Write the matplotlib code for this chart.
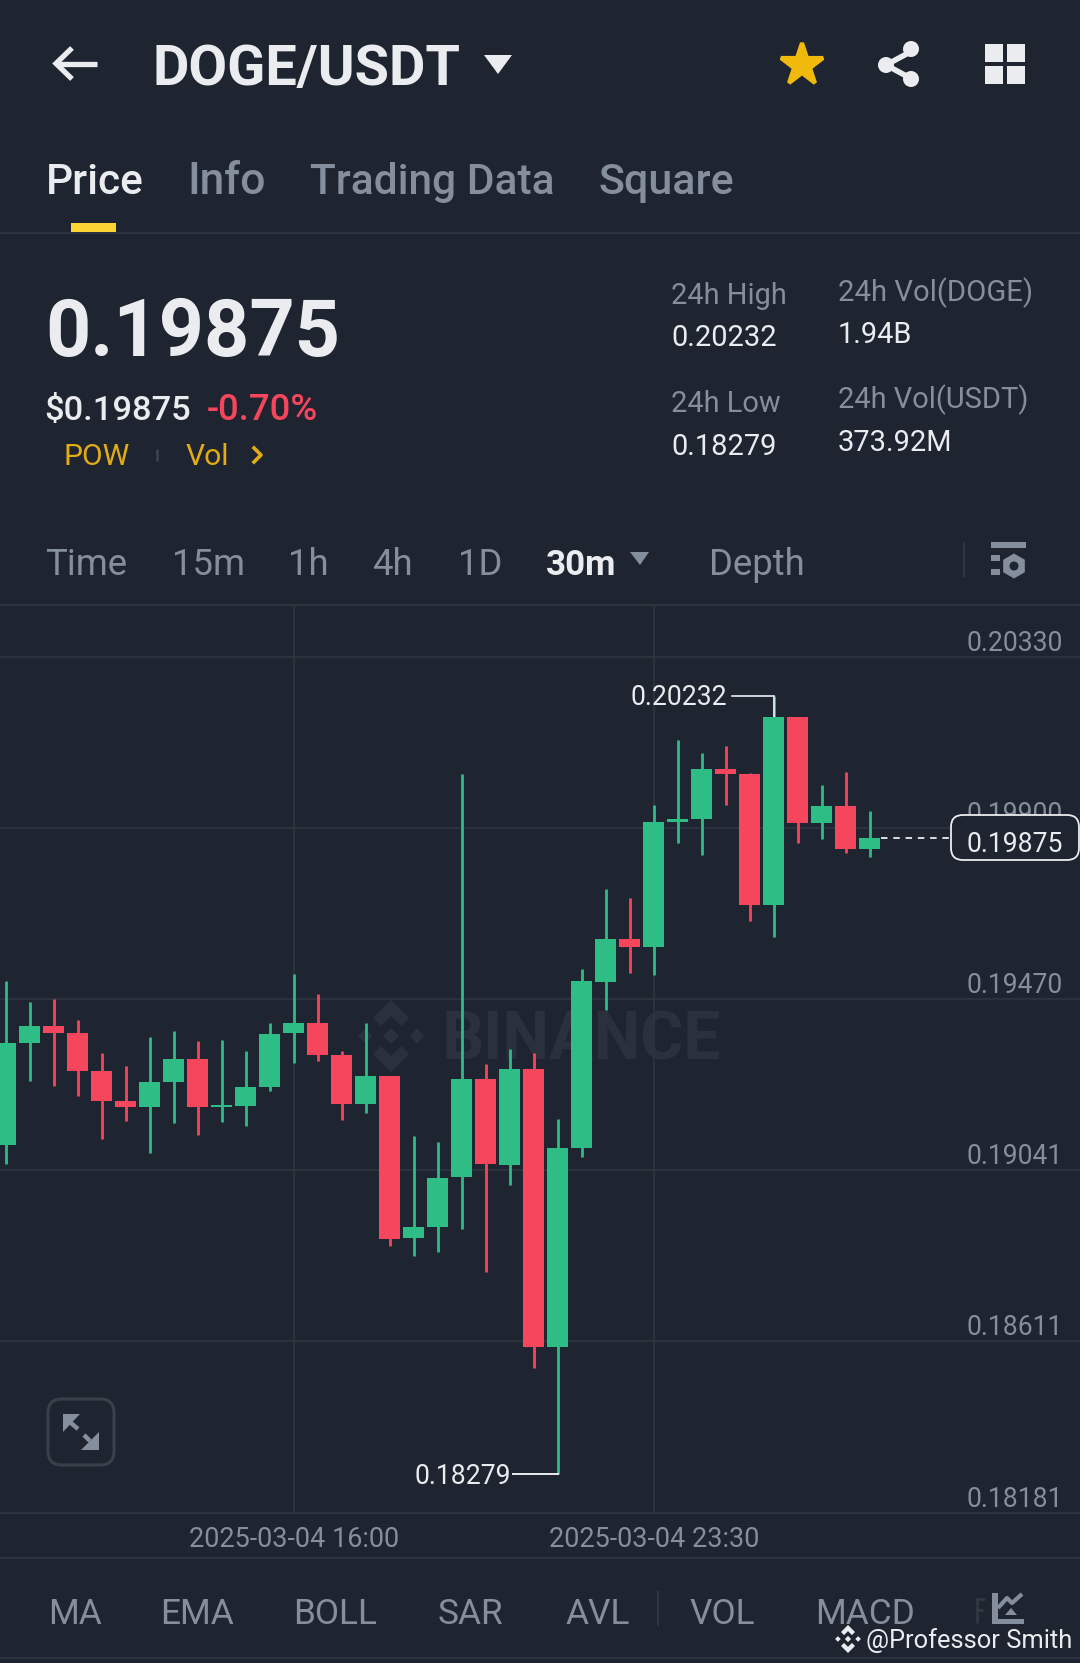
import matplotlib
matplotlib.use("Agg")
import matplotlib.pyplot as plt
from matplotlib.patches import FancyBboxPatch, Polygon, Rectangle, Circle, RegularPolygon

# ---------- data ----------
opens  = [.19105,.19360,.19402,.19385,.19289,.19214,.19200,.19261,.19320,.19199,.19201,.19250,.19385,.19410,.19331,.19207,.19278,.18870,.18897,.19023,.19269,.19054,.19295,.18596,.19096,.19514,.19621,.19601,.19916,.19922,.20048,.20035,.19707,.20179,.19913,.19955,.19847]
closes = [.19360,.19402,.19385,.19289,.19214,.19199,.19261,.19320,.19199,.19204,.19250,.19383,.19410,.19331,.19207,.19278,.18869,.18897,.19021,.19269,.19056,.19295,.18596,.19096,.19517,.19621,.19601,.19916,.19922,.20048,.20035,.19707,.20179,.19913,.19955,.19847,.19875]
highs  = [.19515,.19464,.19470,.19419,.19336,.19302,.19374,.19390,.19366,.19367,.19340,.19410,.19533,.19483,.19341,.19410,.19278,.19127,.19112,.20036,.19308,.19344,.19336,.19170,.19546,.19746,.19725,.19958,.20122,.20089,.20107,.20039,.20232,.20179,.20007,.20040,.19942]
lows   = [.19056,.19265,.19253,.19227,.19118,.19164,.19083,.19160,.19129,.19161,.19151,.19239,.19310,.19315,.19167,.19184,.18850,.18825,.18835,.18893,.18786,.19004,.18544,.18279,.19073,.19442,.19537,.19532,.19863,.19833,.19957,.19667,.19625,.19862,.19873,.19836,.19828]

y_ticks  = [.20330,.19900,.19470,.19041,.18611,.18181]
y_labels = ['0.20330','0.19900','0.19470','0.19041','0.18611','0.18181']
x_ticks  = [12,27]
x_labels = ['2025-03-04 16:00','2025-03-04 23:30']
last_price = .19875

BG='#1E2530'; GRID='#2E353F'; GRAY='#848E9C'; WHITE='#EAECEF'; GREEN='#2EBD85'; RED='#F6465D'; GOLD='#F0B90B'
WM='#2A313C'
W,H=1080,1663
plt.rcParams['font.family']=['Roboto','DejaVu Sans']
fig=plt.figure(figsize=(W/100,H/100),dpi=100,facecolor=BG)

ui=fig.add_axes([0,0,1,1],zorder=0); ui.set_xlim(0,W); ui.set_ylim(H,0); ui.axis('off')

def T(x,y,s,px,color=GRAY,weight='normal',ha='left',ax=ui,**k):
    return ax.text(x,y,s,fontsize=px*.72,color=color,fontweight=weight,ha=ha,va='baseline',**k)
def HL(y,x0=0,x1=W,c=GRID,lw=1.4):
    ui.plot([x0,x1],[y,y],color=c,lw=lw,solid_capstyle='butt')
def VL(x,y0,y1,c=GRID,lw=1.2):
    ui.plot([x,x],[y0,y1],color=c,lw=lw,solid_capstyle='butt')
def P(pts,c,**k):
    ui.add_patch(Polygon(pts,closed=True,fc=c,ec=k.pop('ec','none'),**k))
def logo(cx,cy,r,c):
    sh=[[(0,-1),(.5,-.5),(.28,-.28),(0,-.56),(-.28,-.28),(-.5,-.5)],
        [(0,1),(.5,.5),(.28,.28),(0,.56),(-.28,.28),(-.5,.5)],
        [(0,-.22),(.22,0),(0,.22),(-.22,0)],
        [(-.72,-.2),(-.52,0),(-.72,.2),(-.92,0)],
        [(.72,-.2),(.92,0),(.72,.2),(.52,0)]]
    for s in sh:
        P([(cx+a*r,cy+b*r) for a,b in s],c)

# top bar
ui.plot([97,59],[63.5,63.5],color=WHITE,lw=3.8,solid_capstyle='butt')
ui.plot([72,56,72],[48,63.5,79],color=WHITE,lw=3.8,solid_capstyle='butt',solid_joinstyle='miter')
T(153,85,'DOGE/USDT',56,WHITE,'bold')
P([(484,55),(512,55),(498,74)],WHITE,joinstyle='round')
ui.plot([802],[65],marker='*',ms=32,color=GOLD,mec=GOLD,mew=3,mfc=GOLD,ls='none')
ui.plot([912,886,912],[51,65,79],color=WHITE,lw=4)
for cx,cy,r in [(911,49,8),(886,65,8),(911,79,8)]:
    ui.add_patch(Circle((cx,cy),r,fc=WHITE,ec='none'))
for a,b in [(985,44),(1007,44),(985,66),(1007,66)]:
    ui.add_patch(Rectangle((a,b),18,18,fc=WHITE,ec='none'))

# tabs
T(46,194,'Price',42.5,WHITE,'medium')
T(187,194,'Info',44.5,GRAY,'medium')
T(310,194,'Trading Data',42.5,GRAY,'medium')
T(598,194,'Square',43,GRAY,'medium')
ui.add_patch(Rectangle((71,223),45,9,fc='#FCD535',ec='none'))
HL(233)

# price block
T(45,356,'0.19875',79,WHITE,'bold')
T(44,420,'$0.19875',34.5,WHITE,'medium')
T(207,420,'-0.70%',36.5,RED,'medium')
T(63,465,'POW',30,'#E2AC14')
VL(157,449,461,'#3C424A',2)
T(186,465,'Vol',30,'#E2AC14')
ui.plot([254,261,254],[448,455,462],color='#E2AC14',lw=2.6)

for x,y,s,c,px in [(671,304,'24h High',GRAY,29),(671,346,'0.20232',WHITE,29),(671,412,'24h Low',GRAY,29),(671,455,'0.18279',WHITE,29),
                (838,301,'24h Vol(DOGE)',GRAY,29.3),(838,343,'1.94B',WHITE,29),(838,408,'24h Vol(USDT)',GRAY,29),(838,451,'373.92M',WHITE,29)]:
    T(x,y,s,px,c)

# timeframe row
for x,s in [(45,'Time'),(172,'15m'),(288,'1h'),(372,'4h'),(458,'1D'),(709,'Depth')]:
    T(x,575,s,36.5,GRAY)
T(546,575,'30m',35,WHITE,'bold')
P([(630,552),(649,552),(640,565)],GRAY)
VL(964,542,577,'#2F353D',1.6)
ui.add_patch(Rectangle((991,542),35,6,fc=GRAY,ec='none'))
ui.add_patch(Rectangle((991,555),9,6,fc=GRAY,ec='none'))
ui.add_patch(Rectangle((991,569),9,6,fc=GRAY,ec='none'))
ui.add_patch(RegularPolygon((1014,566),6,radius=12.5,fc=GRAY,ec='none'))
ui.add_patch(Circle((1014,566),4.5,fc=BG,ec='none'))
HL(605)
HL(1512.7); HL(1557.7); HL(1658)

# watermark
logo(391,1036,36,WM)
T(442,1059,'BINANCE',66,WM,'bold')

# expand button
ui.add_patch(FancyBboxPatch((56,1407),50,50,boxstyle='round,pad=8,rounding_size=14',fc=BG,ec='#3A4049',lw=2.2))
P([(63,1414),(80,1414),(63,1432)],GRAY)
P([(99,1432),(99,1450),(81,1450)],GRAY)
ui.plot([71,78],[1423,1429],color=GRAY,lw=3.2,solid_capstyle='butt')
ui.plot([90,84],[1441,1435],color=GRAY,lw=3.2,solid_capstyle='butt')

# bottom row
for x,s in [(48,'MA'),(160,'EMA'),(293,'BOLL'),(438,'SAR'),(566,'AVL'),(689,'VOL'),(815,'MACD')]:
    T(x,1624,s,35.3,GRAY)
VL(658,1591,1626,'#2F353D',1.6)
VL(977,1598,1623,'#343A43',1.8)
HL(1599,976,985,'#343A43',1.8)
HL(1610,976,983,'#343A43',1.8)
ui.add_patch(Rectangle((992,1593),6,30,fc=GRAY,ec='none'))
ui.add_patch(Rectangle((992,1619),32,5,fc=GRAY,ec='none'))
ui.plot([998,1007,1012,1022],[1608,1598,1603,1594],color=GRAY,lw=3,solid_capstyle='butt')
P([(1011,1608),(1005,1615),(1017,1615)],GRAY)
logo(848,1639,14,WHITE)
T(866,1648,'@Professor Smith',25.5,WHITE)

# ---------- chart ----------
top_px,bot_px=605,1512.6
slope=(y_ticks[0]-y_ticks[-1])/(1512.6-656.7)
ax=fig.add_axes([0,1-bot_px/H,1,(bot_px-top_px)/H],zorder=1)
ax.patch.set_visible(False)
ax.set_xlim(-5.85/24,(W-5.85)/24)
ax.set_ylim(y_ticks[-1],y_ticks[0]+(656.7-top_px)*slope)
for s in ax.spines.values(): s.set_visible(False)
ax.set_axisbelow(True)

ax.yaxis.tick_right()
ax.set_yticks(y_ticks); ax.set_yticklabels(y_labels)
ax.tick_params(axis='y',length=0,pad=-82,labelsize=26.5*.72,labelcolor=GRAY)
for t in ax.get_yticklabels():
    t.set_ha('left'); t.set_va('bottom')
ax.set_xticks(x_ticks); ax.set_xticklabels(x_labels)
ax.tick_params(axis='x',length=0,pad=9.5,labelsize=27*.72,labelcolor=GRAY)
ax.grid(True,color=GRID,lw=1.2)

n=len(opens)
xs=list(range(n))
cols=[GREEN if c>=o else RED for o,c in zip(opens,closes)]
ax.vlines(xs,lows,highs,colors=cols,lw=2.0,zorder=3)
ax.bar(xs,[abs(c-o) for o,c in zip(opens,closes)],bottom=[min(o,c) for o,c in zip(opens,closes)],
       width=.875,color=cols,zorder=4,linewidth=0)

# high / low callouts
ih=highs.index(max(highs)); il=lows.index(min(lows))
ax.plot([ih-1.75,ih,ih],[highs[ih],highs[ih],max(opens[ih],closes[ih])],color=WHITE,lw=1.2,zorder=3,solid_joinstyle='miter')
ax.plot([il-1.85,il],[lows[il],lows[il]],color=WHITE,lw=1.4,zorder=5)
ax.annotate(f'{highs[ih]:.5f}',(ih-1.75,highs[ih]),xytext=(-3.5,-1),textcoords='offset points',ha='right',va='center',fontsize=26.5*.72,color=WHITE,zorder=6)
ax.annotate(f'{lows[il]:.5f}',(il-1.85,lows[il]),xytext=(-2,-2),textcoords='offset points',ha='right',va='center',fontsize=26.5*.72,color=WHITE,zorder=6)

# last price
ax.plot([n-1+.46,(950.5-5.85)/24],[last_price,last_price],color=WHITE,lw=1.3,ls=(0,(3.6,3.2)),zorder=5)
ax.add_patch(FancyBboxPatch((959,823),112,29,boxstyle='round,pad=8,rounding_size=12',fc=BG,ec=WHITE,lw=1.3,
                            transform=ui.transData,zorder=6,clip_on=False))
ax.text(966,851.5,f'{last_price:.5f}',fontsize=26.5*.72,color=WHITE,transform=ui.transData,va='baseline',ha='left',zorder=7)

fig.savefig('out.png',dpi=100,facecolor=BG)
